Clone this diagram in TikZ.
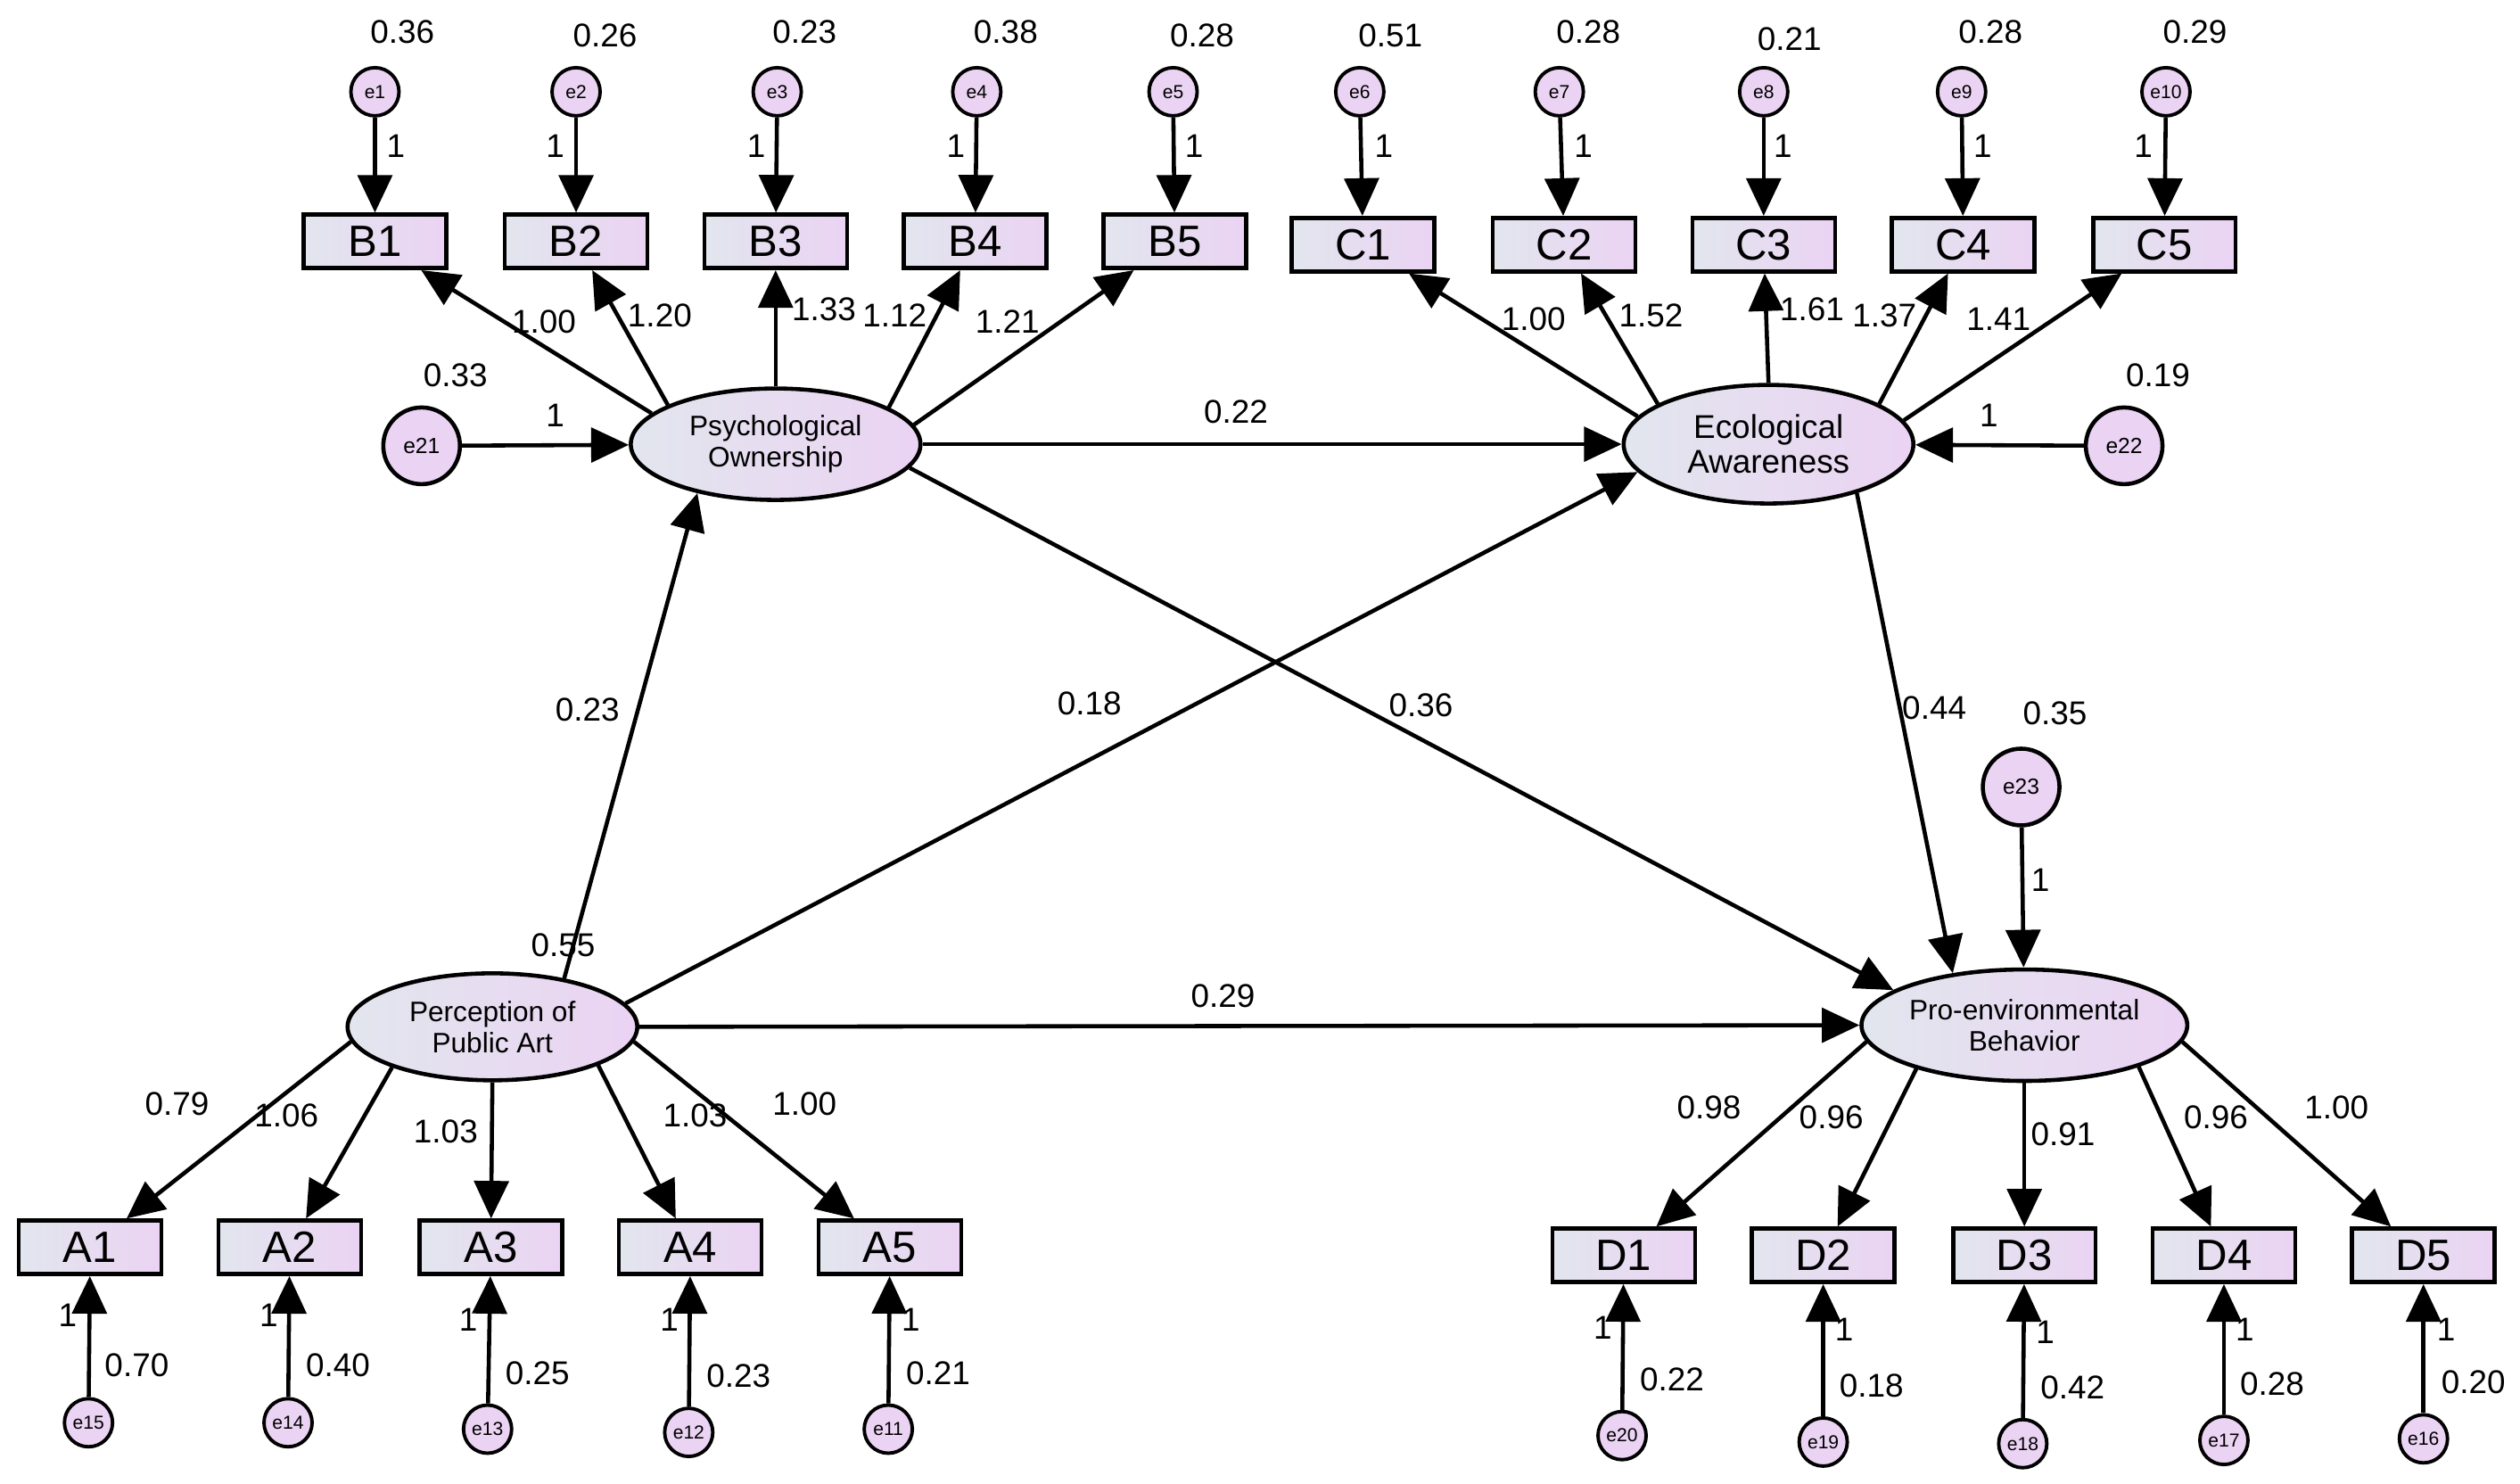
\documentclass[tikz,border=0pt]{standalone}
\usepackage{fontspec}
\setmainfont{Liberation Sans}
\usetikzlibrary{shapes.geometric,arrows.meta}
\definecolor{lgray}{HTML}{E2E6EE}
\definecolor{lav}{HTML}{EBD3F3}
\begin{document}
\begin{tikzpicture}[x=0.01805cm,y=-0.01805cm,
 box/.style={draw,line width=1.3pt,minimum width=1.6cm,minimum height=0.6cm,inner sep=0pt,left color=lgray,right color=lav,font=\fontsize{14}{14}\selectfont},
 lat/.style={draw,line width=1.3pt,ellipse,minimum width=3.25cm,minimum height=1.25cm,inner sep=0pt,left color=lgray,right color=lav,align=center,font=\fontsize{9}{10}\selectfont},
 err/.style={draw,line width=1.1pt,circle,minimum size=0.54cm,inner sep=0pt,fill=lav,font=\fontsize{6}{6}\selectfont},
 bigerr/.style={draw,line width=1.3pt,circle,minimum size=0.86cm,inner sep=0pt,fill=lav,font=\fontsize{7}{7}\selectfont},
 ar/.style={line width=1.3pt,-{Triangle[length=12pt,width=11pt]}},
 lb/.style={font=\fontsize{10.5}{11}\selectfont,inner sep=0pt}]
\useasboundingbox (0,0) rectangle (1566,922);
% latent
\node[lat] (PO) at (482,276) {Psychological\\Ownership};
\node[lat,minimum height=1.33cm,font=\fontsize{10.5}{11}\selectfont] (EA) at (1099,276) {Ecological\\Awareness};
\node[lat,minimum height=1.2cm] (PPA) at (306,638) {Perception of\\Public Art};
\node[lat] (PEB) at (1258,637) {Pro-environmental\\Behavior};
\node[bigerr] (e21) at (262,277) {e21};
\node[bigerr] (e22) at (1320,277) {e22};
\node[bigerr] (e23) at (1256,489) {e23};
% top indicators
\foreach \n/\x in {B1/233,B2/358,B3/482,B4/606,B5/730,C1/847,C2/972,C3/1096,C4/1220,C5/1345}{
 \node[box] (\n) at (\x,\ifnum\x<800 150\else 152\fi) {\n};
}
\foreach \i/\x/\t in {1/233/B1,2/358/B2,3/483/B3,4/607/B4,5/729/B5,6/845/C1,7/969/C2,8/1096/C3,9/1219/C4,10/1346/C5}{
 \node[err] (e\i) at (\x,57) {e\i};
 \draw[ar] (e\i) -- (\t);
}
\foreach \v/\x/\y in {0.36/250/20,0.26/376/22,0.23/500/20,0.38/625/20,0.28/747/22,0.51/864/22,0.28/987/20,0.21/1112/24,0.28/1237/20,0.29/1364/20}{\node[lb] at (\x,\y) {\v};}
\foreach \x in {246,742,860,984,1108,1232}{\node[lb] at (\x,91) {1};}
\foreach \x in {345,470,594,1332}{\node[lb] at (\x,91) {1};}
% bottom indicators
\foreach \n/\x/\a in {A1/56/186,A2/180/202,A3/305/270,A4/429/340,A5/553/354}{\node[box] (\n) at (\x,775) {\n}; \draw[ar] (PPA.\a) -- (\n);}
\foreach \n/\x/\a in {D1/1009/186,D2/1133/202,D3/1258/270,D4/1382/340,D5/1506/354}{\node[box] (\n) at (\x,780) {\n}; \draw[ar] (PEB.\a) -- (\n);}
\foreach \i/\x/\y/\t in {15/55/884/A1,14/179/884/A2,13/303/888/A3,12/428/890/A4,11/552/888/A5,20/1008/892/D1,19/1133/896/D2,18/1257/897/D3,17/1382/895/D4,16/1506/894/D5}{
 \node[err] (e\i) at (\x,\y) {e\i};
 \draw[ar] (e\i) -- (\t);
}
\foreach \v/\x/\y in {0.70/85/848,0.40/210/848,0.25/334/853,0.23/459/855,0.21/583/853,0.22/1039/857,0.18/1163/861,0.42/1288/862,0.28/1412/860,0.20/1537/859}{\node[lb] at (\x,\y) {\v};}
\foreach \x/\y in {42/817,167/817,291/820,416/820,566/820,996/825,1146/826,1271/828,1395/826,1520/826}{\node[lb] at (\x,\y) {1};}
% loadings top
\foreach \t/\a in {B1/166,B2/160,B3/90,B4/18,B5/8}{\draw[ar] (PO.\a) -- (\t);}
\foreach \t/\a in {C1/168,C2/160,C3/90,C4/20,C5/10}{\draw[ar] (EA.\a) -- (\t);}
\foreach \v/\x/\y in {1.00/338/200,1.20/410/196,1.33/512/192,1.12/556/196,1.21/626/200,1.00/953/198,1.52/1026/196,1.61/1126/192,1.37/1171/196,1.41/1242/198}{\node[lb] at (\x,\y) {\v};}
\foreach \v/\x/\y in {0.79/110/686,1.06/178/693,1.03/277/703,1.03/432/693,1.00/500/686,0.98/1062/688,0.96/1138/694,0.91/1282/705,0.96/1377/694,1.00/1452/688}{\node[lb] at (\x,\y) {\v};}
% structural
\draw[ar] (e21) -- (PO);
\draw[ar] (e22) -- (EA);
\draw[ar] (e23) -- (PEB);
\draw[ar] (PO.0) -- (EA.180);
\draw[ar] (PO.350) -- (PEB.165);
\draw[ar] (PPA.34) -- (PO.212);
\draw[ar] (PPA.10) -- (EA.192);
\draw[ar] (PPA.0) -- (PEB.180);
\draw[ar] (EA.331) -- (PEB.144);
\foreach \v/\x/\y in {0.33/283/233,1/345/258,0.19/1341/233,1/1236/258,0.22/768/256,0.23/365/441,0.18/677/437,0.36/883/438,0.44/1202/440,0.35/1277/443,1/1268/547,0.55/350/587,0.29/760/619}{\node[lb] at (\x,\y) {\v};}
\end{tikzpicture}
\end{document}
